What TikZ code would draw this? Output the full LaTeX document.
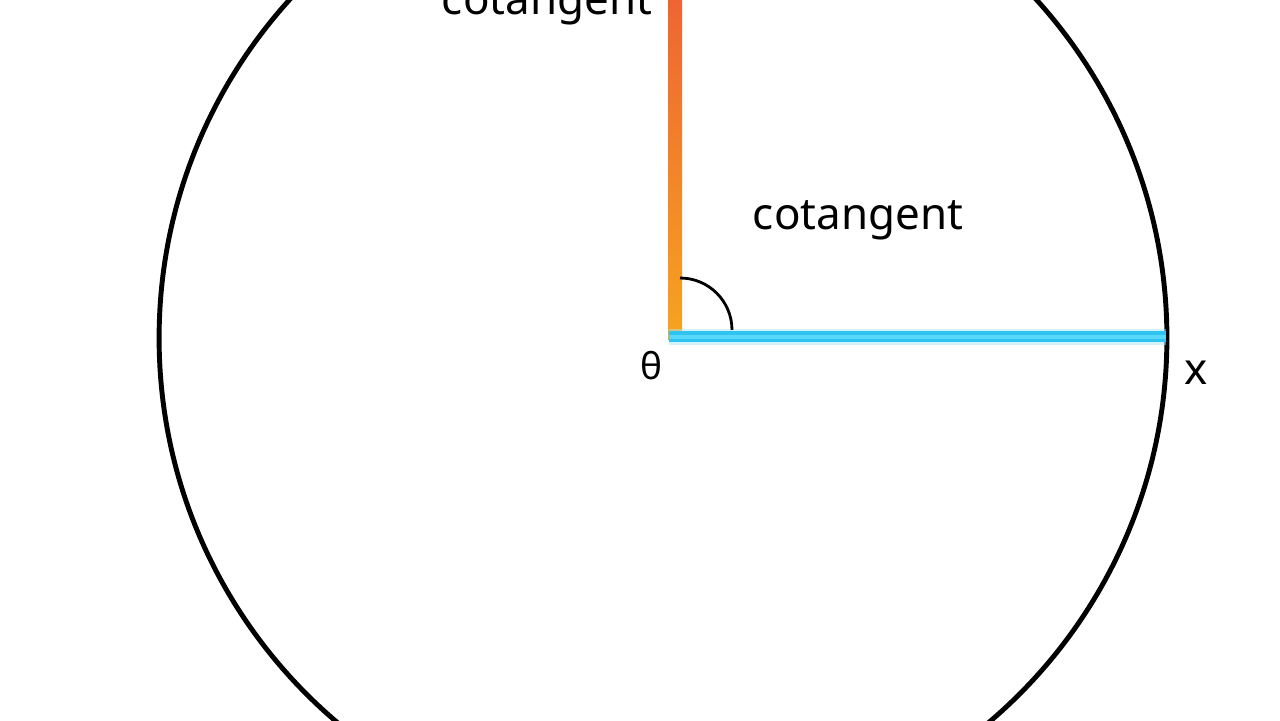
\documentclass[tikz,border=0pt]{standalone}
\usepackage{fontspec}
\setmainfont{Noto Sans}
\usepackage{tikz}
\usetikzlibrary{positioning,calc}
\definecolor{cotred}{HTML}{EE6433}
\definecolor{cotmid}{HTML}{F47C2C}
\definecolor{cotyel}{HTML}{F6A420}
\definecolor{xblue}{HTML}{2EC3F1}
\definecolor{xglow}{HTML}{A8E8FA}
\definecolor{xlight}{HTML}{5AD8FA}

\begin{document}
\begin{tikzpicture}[
    x=0.02cm, y=0.02cm,
    unitcircle/.style={draw=black, line width=2.8pt},
    anglearc/.style={draw=black, line width=1.6pt},
    lbl/.style={inner sep=0pt, font=\fontsize{25}{30}\selectfont},
    greek/.style={inner sep=0pt, font=\fontsize{21}{25}\selectfont}
]
    \useasboundingbox (0,0) rectangle (1280,720);
    \clip (0,0) rectangle (1280,720);
    \fill[white] (0,0) rectangle (1280,720);

    % points
    \coordinate (O) at (663,382);
    \coordinate (C) at (669,383);
    \coordinate (X) at (1166,383);

    % circle
    \draw[unitcircle] (O) circle[radius=10.08cm];

    % cotangent (vertical)
    \shade[top color=cotred, middle color=cotmid, bottom color=cotyel]
        (668,380) rectangle (682,725);

    % x axis (horizontal)
    \draw[xglow, line width=0.32cm, opacity=0.5] (C) -- (X);
    \draw[xblue, line width=0.22cm] (C) -- (X);
    \draw[xlight, line width=0.08cm] (C) -- (X);

    % angle
    \draw[anglearc] (680,442) arc[start angle=90, end angle=0, radius=1.04cm];

    % labels
    \node[lbl, anchor=base] (cottop) at (547,705) {cotangent};
    \node[lbl, anchor=base] (cotmid) at (858,490) {cotangent};
    \node[greek] (theta) at (651,354) {θ};
    \node[lbl] (xlab) at (1196,347) {x};
\end{tikzpicture}
\end{document}
